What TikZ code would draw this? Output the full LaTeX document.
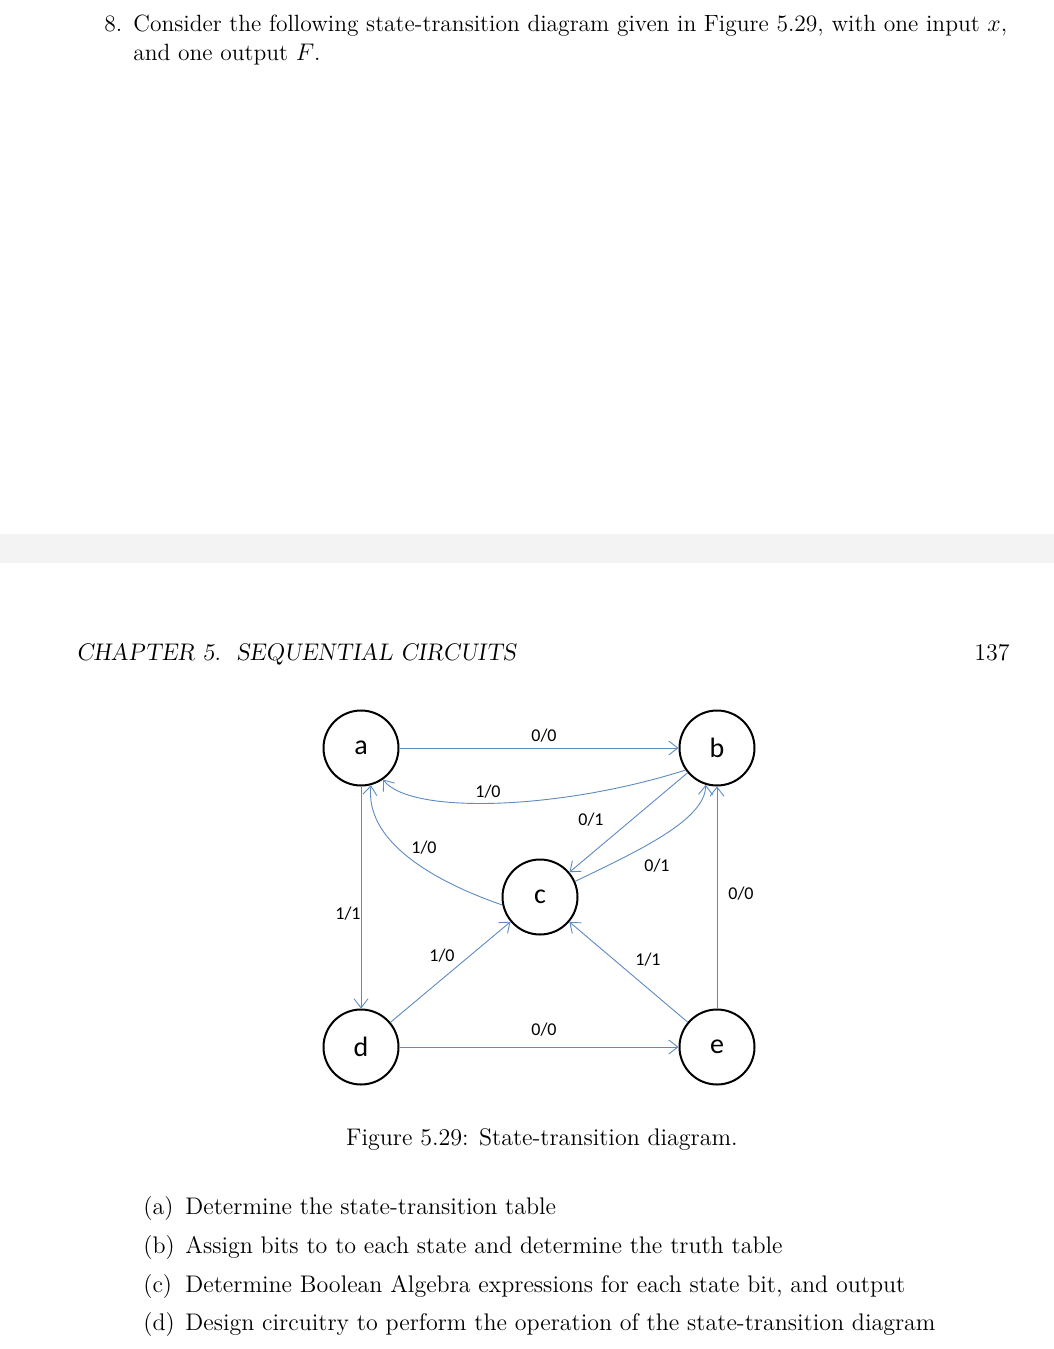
\documentclass[tikz,border=0pt]{standalone}
\usepackage{fontspec}
\newfontfamily\diagfont{Carlito}
\usetikzlibrary{arrows.meta}
\definecolor{edgeblue}{RGB}{92,138,194}
\definecolor{bandgray}{RGB}{243,243,243}
\tikzset{
  state/.style={circle,draw=black,line width=1pt,minimum size=37.5pt,inner sep=0pt,font=\diagfont\fontsize{14}{16}\selectfont},
  edge/.style={draw=edgeblue,line width=0.45pt,-{Straight Barb[length=4.5pt,width=7pt,line width=0.45pt]}},
  elabel/.style={font=\diagfont\fontsize{9}{11}\selectfont,inner sep=0pt},
  body/.style={anchor=base west,inner sep=0pt,font=\fontsize{12}{14}\selectfont},
  topbody/.style={anchor=base west,inner sep=0pt,font=\fontsize{11.75}{14}\selectfont},
}
\begin{document}
\begin{tikzpicture}[x=0.5pt,y=-0.5pt]
\useasboundingbox (0,0) rectangle (1054,1349);
\fill[bandgray] (0,534) rectangle (1054,563);
% top text
\node[topbody] (n8) at (104,32) {8.};
\node[topbody] (l1) at (133,32) {Consider the following state-transition diagram given in Figure 5.29, with one input $x$,};
\node[topbody] (l2) at (133,61) {and one output $F$.};
% header
\node[body,font=\fontsize{12}{14}\selectfont\slshape] (hdr) at (76,660) {CHAPTER 5.\ \ SEQUENTIAL CIRCUITS};
\node[body,anchor=base east] (pg) at (1010,660) {137};
% states
\node[state] (a) at (361,748) {a};
\node[state] (b) at (717,748) {b};
\node[state] (c) at (540,897) {c};
\node[state] (d) at (361,1047) {d};
\node[state] (e) at (717,1047) {e};
% edges
\draw[edge] (a) -- (b);
\draw[edge] (b.215) .. controls (560,810) and (410,815) .. (a.305);
\draw[edge] (c.192) .. controls (430,880) and (365,840) .. (a.285);
\draw[edge] (a) -- (d);
\draw[edge] (b) -- (c);
\draw[edge] (c.24) .. controls (640,850) and (705,820) .. (b.253);
\draw[edge] (d) -- (c);
\draw[edge] (e) -- (c);
\draw[edge] (d) -- (e);
\draw[edge] (e) -- (b);
% labels
\node[elabel] (lab1) at (544,736) {0/0};
\node[elabel] (lab2) at (488,792) {1/0};
\node[elabel] (lab3) at (424,848) {1/0};
\node[elabel] (lab4) at (348,914) {1/1};
\node[elabel] (lab5) at (591,820) {0/1};
\node[elabel] (lab6) at (657,866) {0/1};
\node[elabel] (lab7) at (741,894) {0/0};
\node[elabel] (lab8) at (442,956) {1/0};
\node[elabel] (lab9) at (648,960) {1/1};
\node[elabel] (lab10) at (544,1030) {0/0};
% caption
\node[body,anchor=base] (cap) at (542,1145) {Figure 5.29: State-transition diagram.};
% list
\node[body] (ia) at (143,1214) {(a)};
\node[body] (ta) at (185,1214) {Determine the state-transition table};
\node[body] (ib) at (143,1253) {(b)};
\node[body] (tb) at (185,1253) {Assign bits to to each state and determine the truth table};
\node[body] (ic) at (143,1292) {(c)};
\node[body] (tc) at (185,1292) {Determine Boolean Algebra expressions for each state bit, and output};
\node[body] (id) at (143,1330) {(d)};
\node[body] (td) at (185,1330) {Design circuitry to perform the operation of the state-transition diagram};
\end{tikzpicture}
\end{document}
